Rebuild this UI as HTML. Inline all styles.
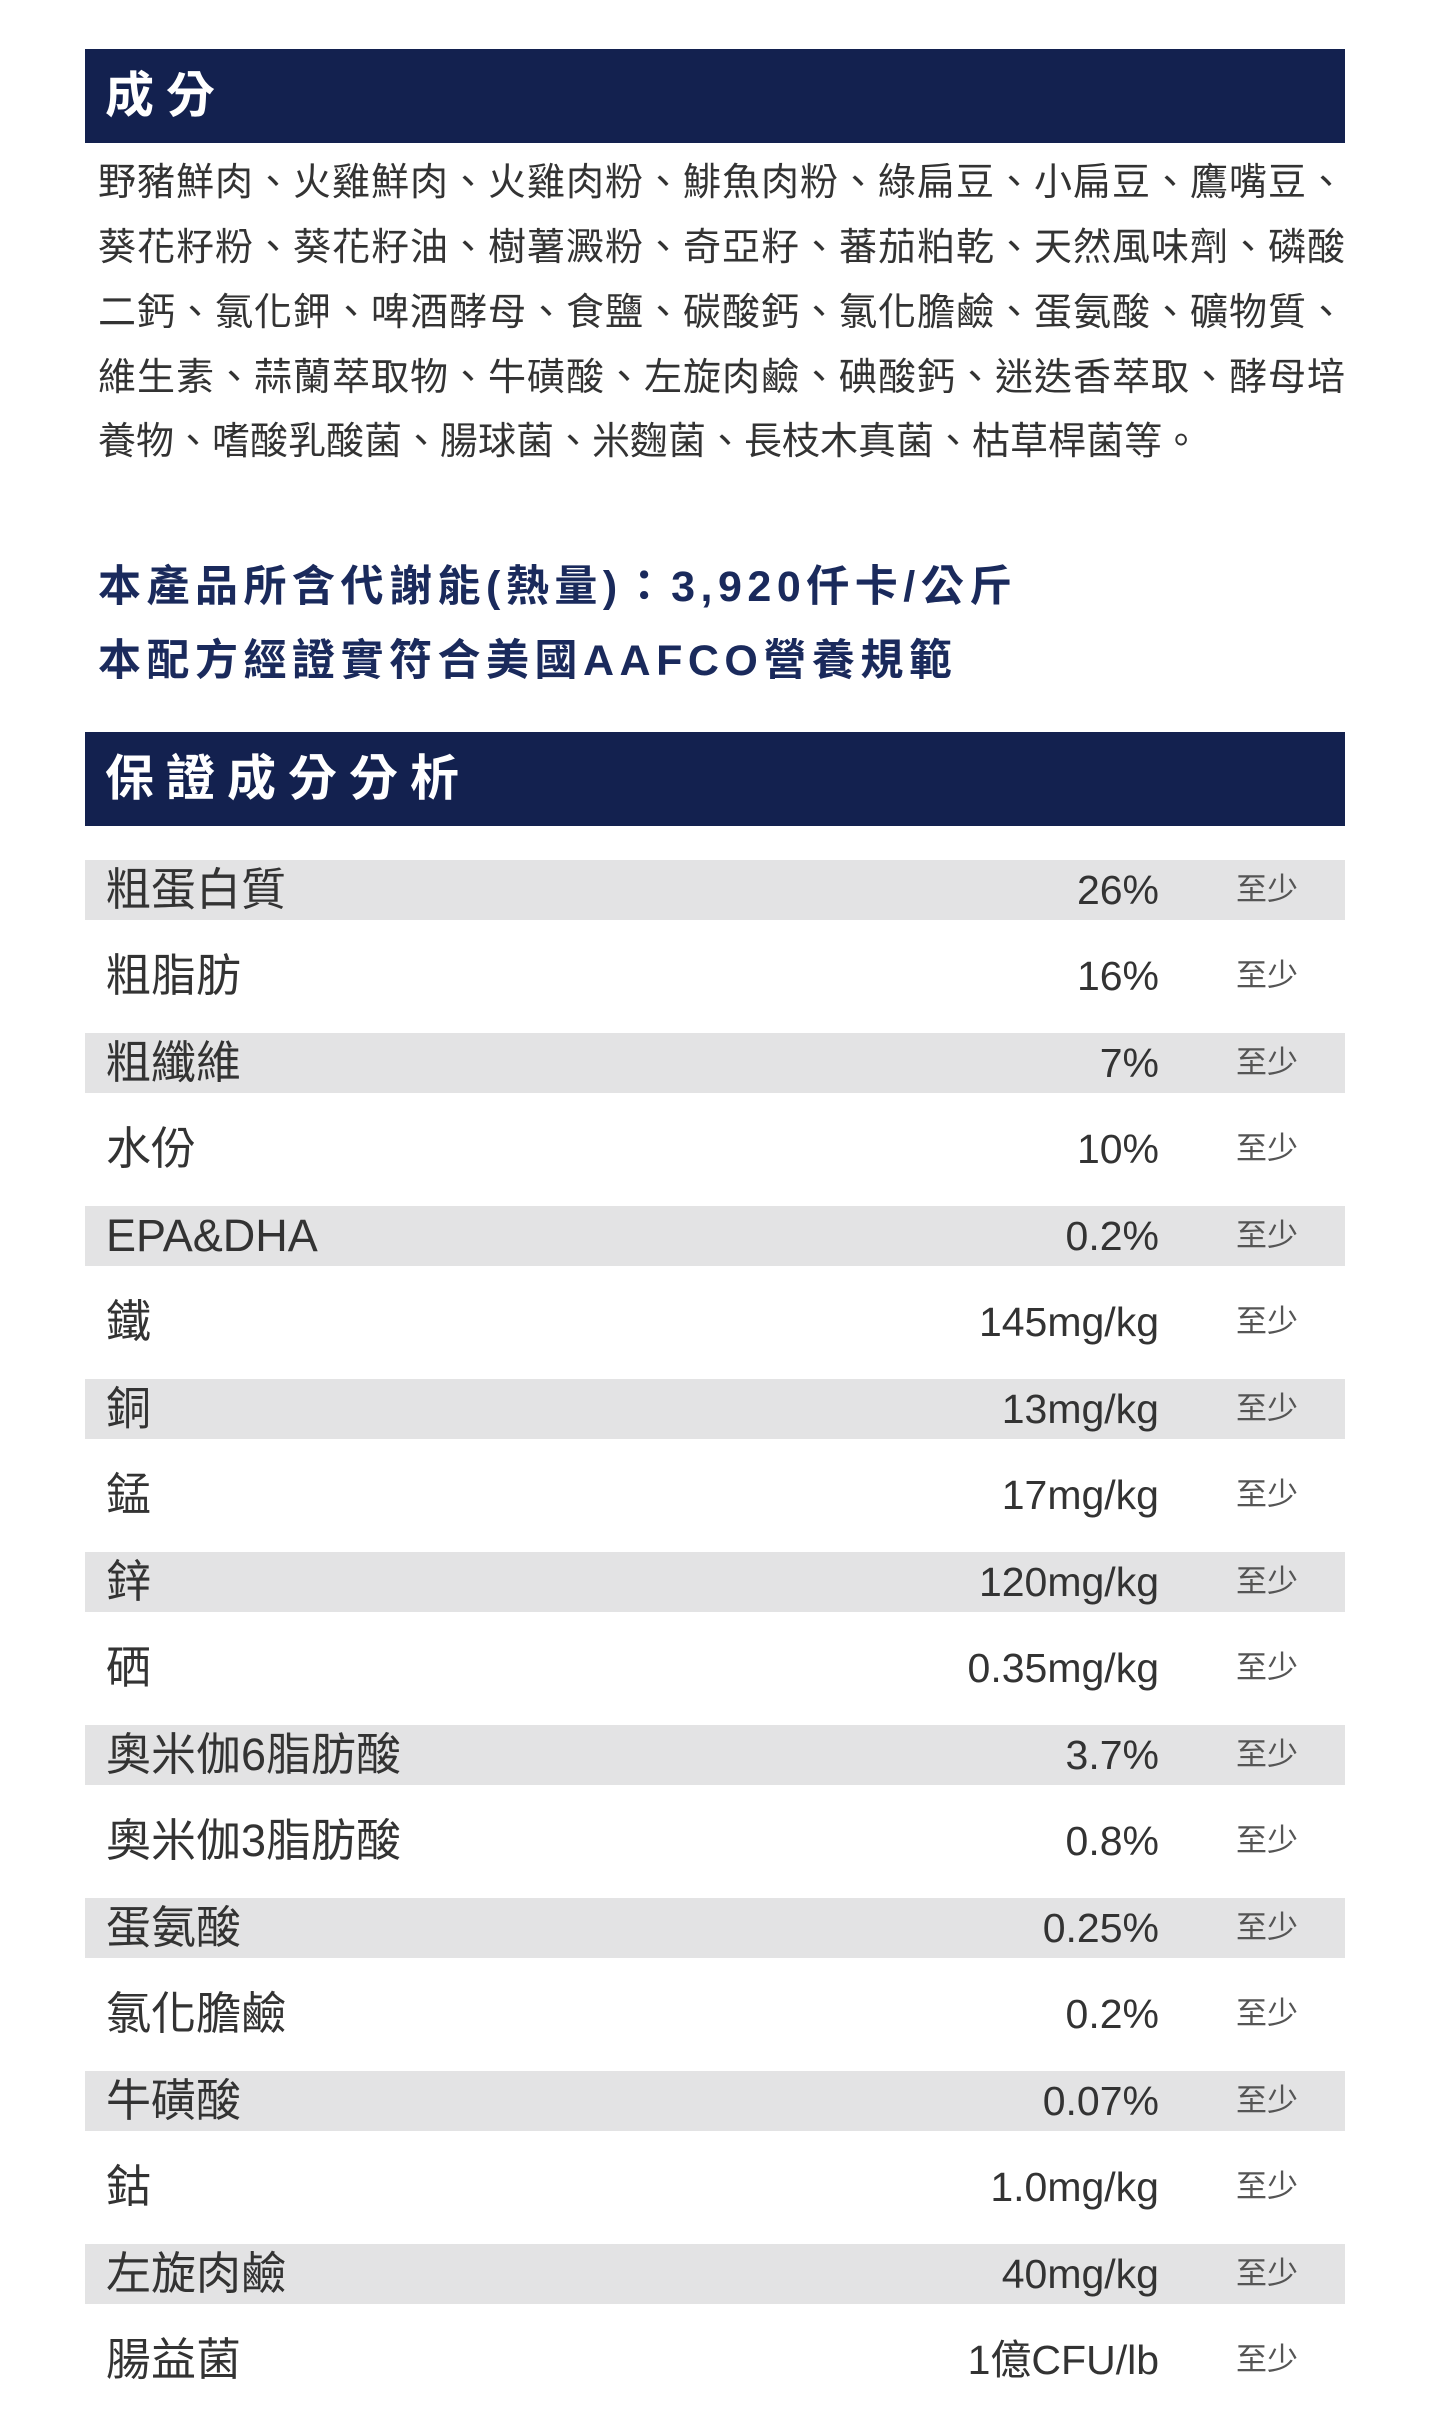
<!DOCTYPE html>
<html><head><meta charset="utf-8"><style>
html,body{margin:0;padding:0;background:#fff}
body{width:1441px;height:2421px;position:relative;overflow:hidden;font-family:"Liberation Sans","Noto Sans CJK TC",sans-serif}
.hd{position:absolute;left:85px;width:1260px;height:94px;background:#13214f;color:#fff;font-weight:bold;font-size:49px;line-height:94px;padding-left:20px;box-sizing:border-box;letter-spacing:12px}
.ing{position:absolute;left:98px;width:1247px;font-size:38px;color:#333;text-align:justify;text-align-last:justify;height:65px;line-height:65px;white-space:nowrap}
.blue{position:absolute;left:98px;font-size:43px;font-weight:bold;color:#1a2a5c;line-height:60px;letter-spacing:5.5px;white-space:nowrap}
.row{position:absolute;left:85px;width:1260px;height:60px}
.row.g{background:#e3e3e4}
.lb{position:absolute;left:21px;top:0;line-height:60px;font-size:45px;color:#333}
.v{position:absolute;right:186px;top:0;line-height:60px;font-size:41px;color:#333;white-space:nowrap}
.m{position:absolute;left:1151px;top:0;line-height:60px;font-size:31px;color:#555}
</style></head><body>
<div class="hd" style="top:49px">成分</div>
<div class="ing" style="top:151px">野豬鮮肉、火雞鮮肉、火雞肉粉、鯡魚肉粉、綠扁豆、小扁豆、鷹嘴豆、</div>
<div class="ing" style="top:216px">葵花籽粉、葵花籽油、樹薯澱粉、奇亞籽、蕃茄粕乾、天然風味劑、磷酸</div>
<div class="ing" style="top:281px">二鈣、氯化鉀、啤酒酵母、食鹽、碳酸鈣、氯化膽鹼、蛋氨酸、礦物質、</div>
<div class="ing" style="top:346px">維生素、蒜蘭萃取物、牛磺酸、左旋肉鹼、碘酸鈣、迷迭香萃取、酵母培</div>
<div class="ing" style="top:410px;text-align-last:left">養物、嗜酸乳酸菌、腸球菌、米麴菌、長枝木真菌、枯草桿菌等。</div>
<div class="blue" style="top:557px">本產品所含代謝能(熱量)：3,920仟卡/公斤</div>
<div class="blue" style="top:631px">本配方經證實符合美國AAFCO營養規範</div>
<div class="hd" style="top:732px">保證成分分析</div>
<div class="row g" style="top:860px"><span class="lb">粗蛋白質</span><span class="v">26%</span><span class="m">至少</span></div>
<div class="row" style="top:946px"><span class="lb">粗脂肪</span><span class="v">16%</span><span class="m">至少</span></div>
<div class="row g" style="top:1033px"><span class="lb">粗纖維</span><span class="v">7%</span><span class="m">至少</span></div>
<div class="row" style="top:1119px"><span class="lb">水份</span><span class="v">10%</span><span class="m">至少</span></div>
<div class="row g" style="top:1206px"><span class="lb">EPA&amp;DHA</span><span class="v">0.2%</span><span class="m">至少</span></div>
<div class="row" style="top:1292px"><span class="lb">鐵</span><span class="v">145mg/kg</span><span class="m">至少</span></div>
<div class="row g" style="top:1379px"><span class="lb">銅</span><span class="v">13mg/kg</span><span class="m">至少</span></div>
<div class="row" style="top:1465px"><span class="lb">錳</span><span class="v">17mg/kg</span><span class="m">至少</span></div>
<div class="row g" style="top:1552px"><span class="lb">鋅</span><span class="v">120mg/kg</span><span class="m">至少</span></div>
<div class="row" style="top:1638px"><span class="lb">硒</span><span class="v">0.35mg/kg</span><span class="m">至少</span></div>
<div class="row g" style="top:1725px"><span class="lb">奧米伽6脂肪酸</span><span class="v">3.7%</span><span class="m">至少</span></div>
<div class="row" style="top:1811px"><span class="lb">奧米伽3脂肪酸</span><span class="v">0.8%</span><span class="m">至少</span></div>
<div class="row g" style="top:1898px"><span class="lb">蛋氨酸</span><span class="v">0.25%</span><span class="m">至少</span></div>
<div class="row" style="top:1984px"><span class="lb">氯化膽鹼</span><span class="v">0.2%</span><span class="m">至少</span></div>
<div class="row g" style="top:2071px"><span class="lb">牛磺酸</span><span class="v">0.07%</span><span class="m">至少</span></div>
<div class="row" style="top:2157px"><span class="lb">鈷</span><span class="v">1.0mg/kg</span><span class="m">至少</span></div>
<div class="row g" style="top:2244px"><span class="lb">左旋肉鹼</span><span class="v">40mg/kg</span><span class="m">至少</span></div>
<div class="row" style="top:2330px"><span class="lb">腸益菌</span><span class="v">1億CFU/lb</span><span class="m">至少</span></div>
</body></html>
